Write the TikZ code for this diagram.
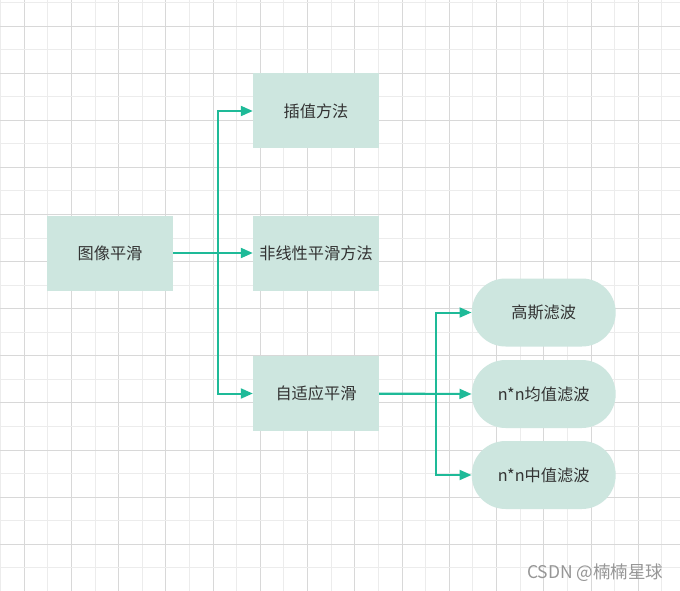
\documentclass[tikz,border=0pt]{standalone}
\usepackage{fontspec}
\setmainfont{Noto Sans CJK SC}
\usetikzlibrary{arrows.meta}
\definecolor{boxfill}{RGB}{205,230,223}
\definecolor{linkc}{RGB}{30,186,152}
\definecolor{txt}{RGB}{51,51,51}
\definecolor{gmaj}{RGB}{216,216,216}
\definecolor{gmin}{RGB}{236,236,236}
\definecolor{wm}{RGB}{150,150,150}
\tikzset{
  rectbox/.style={draw=none, fill=boxfill, minimum width=126pt, minimum height=75pt, inner sep=0pt, text=txt, font=\fontsize{16.2pt}{19pt}\selectfont},
  pillbox/.style={draw=none, fill=boxfill, rounded corners=33.9pt, minimum width=144pt, minimum height=68pt, inner sep=0pt, text=txt, font=\fontsize{16.2pt}{19pt}\selectfont},
  link/.style={draw=linkc, line width=2pt, -{Triangle[length=12pt,width=10pt]}},
}
\begin{document}
\begin{tikzpicture}[x=1pt,y=-1pt]
\useasboundingbox (0,0) rectangle (680,591);
\fill[white] (0,0) rectangle (680,591);
% grid
\foreach \k in {0,...,28}{
  \pgfmathsetmacro{\xx}{0.5+23.62*\k}
  \pgfmathtruncatemacro{\odd}{mod(\k,2)}
  \ifnum\odd=1
    \draw[gmaj, line width=0.9pt] (\xx,0) -- (\xx,591);
  \else
    \draw[gmin, line width=0.9pt] (\xx,0) -- (\xx,591);
  \fi
}
\foreach \k in {0,...,25}{
  \pgfmathsetmacro{\yy}{2.5+23.55*\k}
  \pgfmathtruncatemacro{\odd}{mod(\k,2)}
  \ifnum\odd=1
    \draw[gmaj, line width=0.9pt] (0,\yy) -- (680,\yy);
  \else
    \draw[gmin, line width=0.9pt] (0,\yy) -- (680,\yy);
  \fi
}
% nodes
\node[rectbox] (root) at (110,253) {图像平滑};
\node[rectbox] (interp) at (316,111) {插值方法};
\node[rectbox] (nonlin) at (316,253) {非线性平滑方法};
\node[rectbox] (adapt) at (316,393.5) {自适应平滑};
\node[pillbox] (gauss) at (543.7,312.5) {高斯滤波};
\node[pillbox] (mean) at (543.7,394) {n*n均值滤波};
\node[pillbox] (median) at (543.7,475) {n*n中值滤波};
% junctions
\coordinate (j1) at (218,253);
\coordinate (j2) at (436,393.5);
% connectors
\draw[link] (root.east) -- (j1) |- (interp.west);
\draw[link] (root.east) -- (nonlin.west);
\draw[link] (root.east) -- (j1) |- (adapt.west);
\draw[link] (adapt.east) -- (j2) |- (gauss.west);
\draw[link] (adapt.east) -- (mean.west);
\draw[link] (adapt.east) -- (j2) |- (median.west);
% watermark
\node[text=wm, font=\fontsize{17.5pt}{20pt}\selectfont, anchor=east] (wmk) at (667,573) {CSDN @楠楠星球};
\end{tikzpicture}
\end{document}
